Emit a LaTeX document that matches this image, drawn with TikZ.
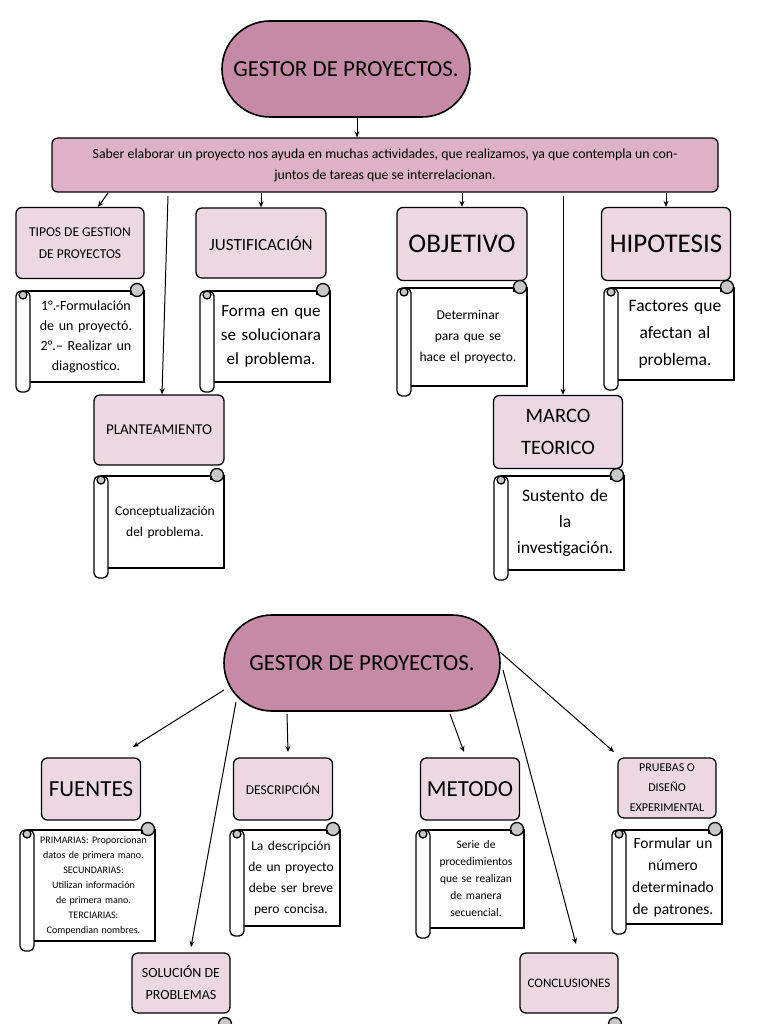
\documentclass[tikz,border=0pt]{standalone}
\usepackage{fontspec}
\setmainfont{Carlito}
\usetikzlibrary{arrows.meta}
\definecolor{dk}{HTML}{C48AA6}
\definecolor{md}{HTML}{DDB2C6}
\definecolor{lt}{HTML}{EBD8E2}
\definecolor{gr}{HTML}{C8C8C8}
\tikzset{
 stad/.style={draw,line width=1.6pt,fill=dk,rounded corners=48pt,minimum height=96pt,font=\fontsize{23}{27}\selectfont},
 box/.style={draw,line width=1.3pt,fill=lt,rounded corners=6pt,align=center},
 ar/.style={-{Stealth[length=6pt,width=5pt]},line width=1pt},
 sc/.style={line width=1.3pt,fill=white},
}
% scroll: name, x1,y1,x2,y2, font, text
\newcommand\scrl[7]{%
 \draw[sc] (#2+8,#3+8) rectangle (#4,#5);
 \draw[sc,fill=gr] (#4-7,#3+7) circle (6.5);
 \draw[sc] (#4-13,#3+8) -- (#4-13,#3+12);
 \draw[sc,rounded corners=5pt] (#2,#3+8) rectangle (#2+14,#5+10);
 \draw[sc,fill=gr] (#2+7,#3+12) circle (4);
 \node[align=center,font=#6,text width=(#4-#2-20)*1pt] (#1) at ({(#2+#4)/2+6},{(#3+#5)/2+4}) {#7};}
\begin{document}
\hyphenpenalty=10000 \exhyphenpenalty=10000
\begin{tikzpicture}[x=1pt,y=-1pt]
\useasboundingbox (0,0) rectangle (768,1024);
% top
\node[stad,minimum width=248pt] (g1) at (346,69) {GESTOR DE PROYECTOS.};
\node[draw,line width=1.3pt,fill=md,rounded corners=6pt,minimum width=666pt,minimum height=54pt,align=center,font=\fontsize{13.8}{21}\selectfont] (ban) at (385,165) {Saber elaborar un proyecto nos ayuda en muchas actividades, que realizamos, ya que contempla un con-\\juntos de tareas que se interrelacionan.};
\draw[ar] (g1.south -| 357,0) -- (ban.north -| 357,0);
\node[box,minimum width=128pt,minimum height=71pt,font=\fontsize{13.5}{22}\selectfont] (tip) at (80,243) {TIPOS DE GESTION\\DE PROYECTOS};
\node[box,minimum width=130pt,minimum height=70pt,font=\fontsize{17}{20}\selectfont] (jus) at (261,243) {JUSTIFICACIÓN};
\node[box,minimum width=130pt,minimum height=73pt,font=\fontsize{27}{32}\selectfont] (obj) at (462,244) {OBJETIVO};
\node[box,minimum width=129pt,minimum height=73pt,font=\fontsize{27}{32}\selectfont] (hip) at (666,244) {HIPOTESIS};
\node[box,minimum width=130pt,minimum height=70pt,font=\fontsize{15}{18}\selectfont] (pla) at (159,430) {PLANTEAMIENTO};
\node[box,minimum width=129pt,minimum height=73pt,font=\fontsize{20.5}{32}\selectfont] (mar) at (558,432) {MARCO\\TEORICO};
\coordinate (b1) at (108,193); \coordinate (b2) at (168,196); \coordinate (b5) at (563,196);
\draw[ar] (b1) -- (98,207);
\draw[ar] (ban.south -| jus) -- (jus.north);
\draw[ar] (ban.south -| obj) -- (obj.north);
\draw[ar] (ban.south -| hip) -- (hip.north);
\draw[ar] (b2) -- (pla.north -| 162,0);
\draw[ar] (b5) -- (mar.north -| 563,0);
\scrl{s1}{16}{283}{144}{382}{\fontsize{14}{20}\selectfont}{1°.-Formulación\\de un proyectó.\\2°.– Realizar un\\diagnostico.}
\scrl{s2}{200}{283}{330}{382}{\fontsize{17}{24}\selectfont}{Forma en que se solucionara el problema.}
\scrl{s3}{397}{280}{527}{386}{\fontsize{13.5}{21}\selectfont}{Determinar\\para que se\\hace el proyecto.}
\scrl{s4}{604}{280}{734}{380}{\fontsize{17.5}{27}\selectfont}{Factores que afectan al problema.}
\scrl{s5}{94}{468}{224}{568}{\fontsize{13.5}{21}\selectfont}{Conceptualización\\del problema.}
\scrl{s6}{494}{468}{624}{570}{\fontsize{17.5}{26}\selectfont}{Sustento de\\la\\investigación.}
% bottom
\node[stad,minimum width=276pt] (g2) at (362,663) {GESTOR DE PROYECTOS.};
\node[box,minimum width=99pt,minimum height=62pt,font=\fontsize{23}{27}\selectfont] (fue) at (91,789) {FUENTES};
\node[box,minimum width=99pt,minimum height=62pt,font=\fontsize{13.5}{16}\selectfont] (des) at (283,789) {DESCRIPCIÓN};
\node[box,minimum width=99pt,minimum height=62pt,font=\fontsize{23}{27}\selectfont] (met) at (470,789) {METODO};
\node[box,minimum width=98pt,minimum height=60pt,font=\fontsize{12}{20}\selectfont] (pru) at (667,788) {PRUEBAS O\\DISEÑO\\EXPERIMENTAL};
\node[box,minimum width=98pt,minimum height=60pt,font=\fontsize{14}{22}\selectfont] (sol) at (181,983) {SOLUCIÓN DE\\PROBLEMAS};
\node[box,minimum width=98pt,minimum height=60pt,font=\fontsize{13}{15}\selectfont] (con) at (569,983) {CONCLUSIONES};
\coordinate (c1) at (224,690); \coordinate (c2) at (287,714); \coordinate (c3) at (450,714);
\coordinate (c4) at (500,652); \coordinate (c5) at (236,702); \coordinate (c6) at (503,670);
\draw[ar] (c1) -- (133,747);
\draw[ar] (c2) -- (288,752);
\draw[ar] (c3) -- (464,752);
\draw[ar] (c4) -- (614,752);
\draw[ar] (c5) -- (191,947);
\draw[ar] (c6) -- (576,944);
\scrl{s7}{20}{822}{155}{941}{\fontsize{10}{15}\selectfont}{PRIMARIAS: Proporcionan datos de primera mano.\\SECUNDARIAS: Utilizan información de primera mano.\\TERCIARIAS: Compendian nombres.}
\scrl{s8}{230}{822}{340}{926}{\fontsize{13.5}{21}\selectfont}{La descripción de un proyecto debe ser breve pero concisa.}
\scrl{s9}{416}{822}{524}{928}{\fontsize{11.5}{17}\selectfont}{Serie de\\procedimientos\\que se realizan\\de manera\\secuencial.}
\scrl{s10}{612}{822}{722}{924}{\fontsize{15.5}{22}\selectfont}{Formular un\\número\\determinado\\de patrones.}
\draw[sc,fill=gr] (225,1024) circle (6.5);
\draw[sc,fill=gr] (615,1024) circle (6.5);
\end{tikzpicture}
\end{document}
